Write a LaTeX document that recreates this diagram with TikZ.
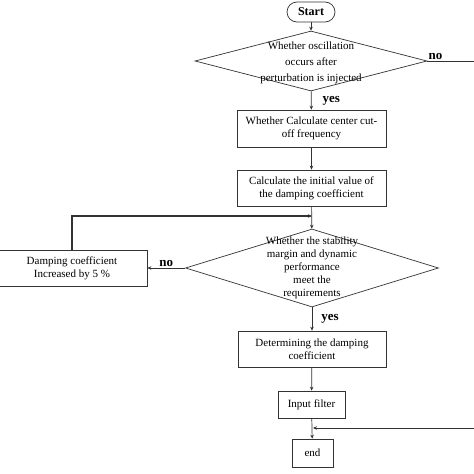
\documentclass[tikz,border=0pt]{standalone}
\usepackage{fontspec}
\setmainfont{Liberation Serif}
\usetikzlibrary{shapes.geometric,arrows.meta}
\tikzset{
	line/.style={draw=black!80, line width=0.7pt},
	flow/.style={line, -{Stealth[length=4pt,width=3.5pt]}},
	box/.style={line, rectangle, inner sep=0pt, align=center, font=\fontsize{11}{13}\selectfont},
	decision/.style={line, diamond, inner sep=0pt},
	dtext/.style={align=center, inner sep=0pt},
	yesno/.style={font=\fontsize{13}{15}\selectfont\bfseries, inner sep=1pt},
}
\begin{document}
\begin{tikzpicture}[x=1pt, y=-1pt]
	\useasboundingbox[fill=white] (0,0) rectangle (474,474);
%	joints of the loops
	\coordinate (fbjoin) at (312,216);
	\coordinate (rtop) at (490,61);
	\coordinate (endjoin) at (313,428);

	\node[line, rectangle, rounded corners=10pt, minimum width=48pt, minimum height=20pt, inner sep=0pt,
		font=\fontsize{12}{14}\selectfont\bfseries] (start) at (311,12) {Start};
	\node[decision, minimum width=232pt, minimum height=60pt] (osc) at (311,61) {};
	\node[dtext, font=\fontsize{11}{16}\selectfont] (osctxt) at (311,63) {Whether oscillation\\occurs after\\perturbation is injected};
	\node[box, minimum width=149pt, minimum height=37pt] (cutoff) at (311.5,128.5) {Whether Calculate center cut-\\off frequency};
	\node[box, minimum width=149pt, minimum height=36pt] (init) at (311.5,188) {Calculate the initial value of\\the damping coefficient};
	\node[decision, minimum width=253pt, minimum height=78pt] (stab) at (312,268) {};
	\node[dtext, font=\fontsize{11}{13}\selectfont] (stabtxt) at (312,268) {Whether the stability\\margin and dynamic\\performance\\meet the\\requirements};
	\node[box, minimum width=150pt, minimum height=36pt] (damp) at (72,268) {Damping coefficient\\Increased by 5 \%};
	\node[box, minimum width=148pt, minimum height=36pt] (det) at (312,349) {Determining the damping\\coefficient};
	\node[box, minimum width=67pt, minimum height=27pt] (filter) at (311.5,404.5) {Input filter};
	\node[box, minimum width=41pt, minimum height=28pt] (end) at (312.5,453) {end};

	\draw[flow] (start) -- (osc);
	\draw[flow] (osc) -- (cutoff) node[yesno, midway, right, xshift=10pt] (yes1) {yes};
	\draw[flow] (cutoff) -- (init);
	\draw[flow] (init) -- (stab);
	\draw[flow] (stab) -- (damp) node[yesno, midway, above] (no2) {no};
	\draw[flow, line width=1.2pt] (damp) |- (fbjoin);
	\draw[flow] (stab) -- (det) node[yesno, midway, right, xshift=8pt] (yes2) {yes};
	\draw[flow] (det) -- (filter);
	\draw[flow] (filter) -- (end);
	\draw[flow] (osc.east) node[yesno, anchor=south west] (no1) {no} -- (rtop) |- (endjoin);
\end{tikzpicture}
\end{document}
